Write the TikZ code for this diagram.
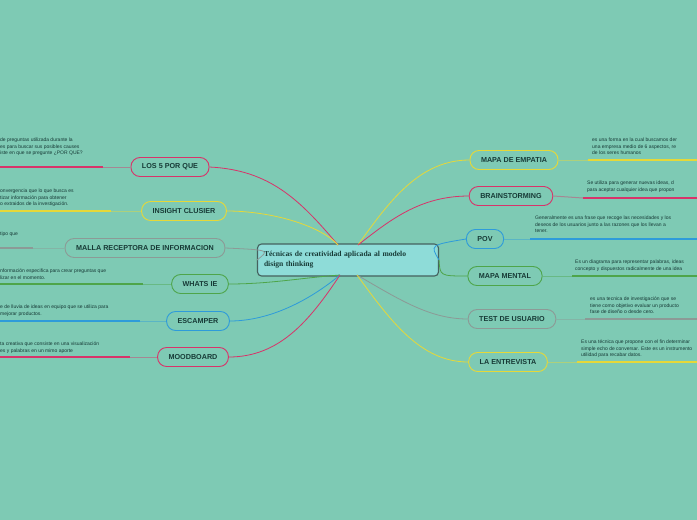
\documentclass[tikz,border=0pt]{standalone}
\usepackage{fontspec}
\setmainfont{Liberation Sans}
\definecolor{bg}{HTML}{7ECAB4}
\definecolor{cpink}{HTML}{D8336A}
\definecolor{cyel}{HTML}{E6D838}
\definecolor{cgray}{HTML}{8C9A96}
\definecolor{cgreen}{HTML}{4EA54A}
\definecolor{cblue}{HTML}{2E9BDA}
\definecolor{ink}{HTML}{173A36}
\definecolor{cfill}{HTML}{8EDCD8}
\tikzset{
 topic/.style={draw=#1, line width=0.9pt, rounded corners=9pt, fill=bg, text=ink, font=\fontsize{7.2}{8}\selectfont\bfseries, minimum height=19pt, inner xsep=11pt},
 desc/.style={inner sep=0pt, anchor=north west, align=left, text=ink, font=\fontsize{5}{6.5}\selectfont},
 conn/.style={draw=#1, line width=0.8pt},
 dline/.style={draw=#1, line width=1.4pt},
 lline/.style={draw=#1!45!bg, line width=1pt},
}
\begin{document}
\begin{tikzpicture}[x=1pt,y=-1pt]
\useasboundingbox (0,0) rectangle (697,520);
\fill[bg] (0,0) rectangle (697,520);
\clip (0,0) rectangle (697,520);
% central
\node[draw=ink!80, line width=1.1pt, fill=cfill, rounded corners=4pt, minimum width=181pt, minimum height=32pt, align=left, font=\fontsize{7.6}{10}\selectfont\bfseries, text=ink, text width=168pt] (c) at (348,260) {\fontspec{Liberation Serif}Técnicas de creatividad aplicada al modelo\\disign thinking};
% left topics
\node[topic=cpink] (t1) at (170,167) {LOS 5 POR QUE};
\node[topic=cyel] (t2) at (184,211) {INSIGHT CLUSIER};
\node[topic=cgray] (t3) at (145,248) {MALLA RECEPTORA DE INFORMACION};
\node[topic=cgreen] (t4) at (200,284) {WHATS IE};
\node[topic=cblue] (t5) at (198,321) {ESCAMPER};
\node[topic=cpink] (t6) at (193,357) {MOODBOARD};
% right topics
\node[topic=cyel] (r1) at (514,160) {MAPA DE EMPATIA};
\node[topic=cpink] (r2) at (511,196) {BRAINSTORMING};
\node[topic=cblue] (r3) at (485,239) {POV};
\node[topic=cgreen] (r4) at (505,276) {MAPA MENTAL};
\node[topic=cgray] (r5) at (512,319) {TEST DE USUARIO};
\node[topic=cyel] (r6) at (508,362) {LA ENTREVISTA};
% connectors
\coordinate (cl) at (338,245); \coordinate (cl2) at (340,275);
\coordinate (cr) at (358,245); \coordinate (cr2) at (357,275);
\draw[conn=cpink] (cl) .. controls (300,200) and (270,170) .. (t1.east);
\draw[conn=cyel] (cl) .. controls (320,225) and (270,211) .. (t2.east);
\draw[conn=cgray] (c.west) .. controls (270,250) .. (t3.east);
\draw[conn=cgreen] (cl2) .. controls (300,278) and (270,284) .. (t4.east);
\draw[conn=cblue] (cl2) .. controls (310,300) and (270,321) .. (t5.east);
\draw[conn=cpink] (cl2) .. controls (310,320) and (280,357) .. (t6.east);
\draw[conn=cyel] (cr) .. controls (390,200) and (420,160) .. (r1.west);
\draw[conn=cpink] (cr) .. controls (390,220) and (420,196) .. (r2.west);
\draw[conn=cblue] (c.east) .. controls (430,245) .. (r3.west);
\draw[conn=cgreen] (c.east) .. controls (440,276) .. (r4.west);
\draw[conn=cgray] (cr2) .. controls (400,300) and (430,319) .. (r5.west);
\draw[conn=cyel] (cr2) .. controls (390,320) and (420,362) .. (r6.west);
% left description lines
\coordinate (e1) at (0,167); \coordinate (m1) at (103,167);
\draw[lline=cpink] (t1.west) -- (m1); \draw[dline=cpink] (m1) -- (e1);
\coordinate (e2) at (0,211); \coordinate (m2) at (111,211);
\draw[lline=cyel] (t2.west) -- (m2); \draw[dline=cyel] (m2) -- (e2);
\coordinate (e3) at (0,248); \coordinate (m3) at (33,248);
\draw[lline=cgray] (t3.west) -- (m3); \draw[dline=cgray] (m3) -- (e3);
\coordinate (e4) at (0,284); \coordinate (m4) at (143,284);
\draw[lline=cgreen] (t4.west) -- (m4); \draw[dline=cgreen] (m4) -- (e4);
\coordinate (e5) at (0,321); \coordinate (m5) at (140,321);
\draw[lline=cblue] (t5.west) -- (m5); \draw[dline=cblue] (m5) -- (e5);
\coordinate (e6) at (0,357); \coordinate (m6) at (130,357);
\draw[lline=cpink] (t6.west) -- (m6); \draw[dline=cpink] (m6) -- (e6);
% right description lines
\coordinate (f1) at (697,160); \coordinate (n1) at (588,160);
\draw[lline=cyel] (r1.east) -- (n1); \draw[dline=cyel] (n1) -- (f1);
\coordinate (f2) at (697,198); \coordinate (n2) at (583,198);
\draw[lline=cpink] (r2.east) -- (n2); \draw[dline=cpink] (n2) -- (f2);
\coordinate (f3) at (697,239); \coordinate (n3) at (530,239);
\draw[lline=cblue] (r3.east) -- (n3); \draw[dline=cblue] (n3) -- (f3);
\coordinate (f4) at (697,276); \coordinate (n4) at (572,276);
\draw[lline=cgreen] (r4.east) -- (n4); \draw[dline=cgreen] (n4) -- (f4);
\coordinate (f5) at (697,319); \coordinate (n5) at (585,319);
\draw[lline=cgray] (r5.east) -- (n5); \draw[dline=cgray] (n5) -- (f5);
\coordinate (f6) at (697,362); \coordinate (n6) at (577,362);
\draw[lline=cyel] (r6.east) -- (n6); \draw[dline=cyel] (n6) -- (f6);
% left texts
\node[desc] (d1) at (0,138) {de preguntas utilizada durante la\\es para buscar sus posibles causes\\iste en que se pregunte ¿POR QUE?};
\node[desc] (d2) at (0,189) {onvergencia que lo que busca es\\tizar información para obtener\\o extraidos de la investigación.};
\node[desc] (d3) at (0,232) {tipo que};
\node[desc] (d4) at (0,269) {nformación especifica para crear preguntas que\\lizar en el momento.};
\node[desc] (d5) at (0,305) {e de lluvia de ideas en equipo que se utiliza para\\mejorar productos.};
\node[desc] (d6) at (0,342) {ta creativa que consiste en una visualización\\es y palabras en un mimo aporte};
% right texts
\node[desc] (g1) at (592,138) {es una forma en la cual buscamos der\\una empresa medio de 6 aspectos, re\\de los seres humanos};
\node[desc] (g2) at (587,181) {Se utiliza para generar nuevas ideas, d\\para aceptar cualquier idea que propon};
\node[desc] (g3) at (535,216) {Generalmente es una frase que recoge las necesidades y los\\deseos de los usuarios junto a las razones que los llevan a\\tener.};
\node[desc] (g4) at (575,260) {Es un diagrama para representar palabras, ideas\\concepto  y dispuestos radicalmente de una idea};
\node[desc] (g5) at (590,297) {es una tecnica de investigación que se\\tiene como objetivo  evaluar un producto\\fase de diseño o desde cero.};
\node[desc] (g6) at (581,340) {Es una técnica que propone con el fin determinar\\simple echo de conversar. Este es un instrumento\\utilidad para recabar datos.};
\end{tikzpicture}
\end{document}
